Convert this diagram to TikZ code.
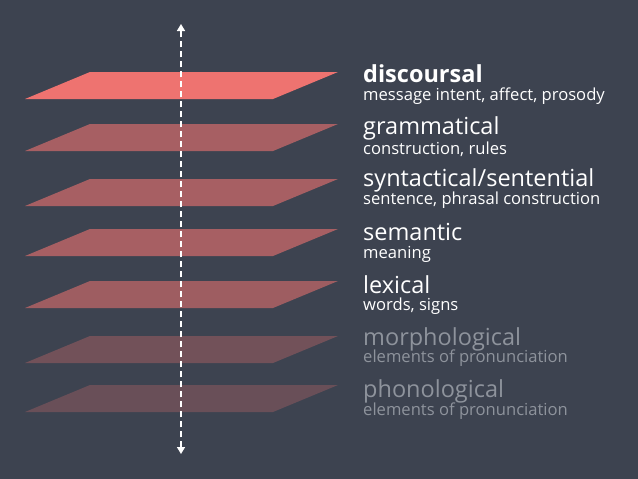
\documentclass[tikz,border=0pt]{standalone}
\usepackage{fontspec}
\setmainfont{Open Sans}
\usetikzlibrary{positioning,arrows.meta}
\definecolor{slate}{HTML}{3D4350}
\definecolor{salmon}{HTML}{EE7370}
\definecolor{chalkgray}{HTML}{8E939C}

\begin{document}
\begin{tikzpicture}[x=1pt,y=-1pt,
				plane/.style={fill=salmon,draw=none},
				head/.style={anchor=base west,inner sep=0pt,text=white,font=\fontsize{23.5}{23.5}\selectfont},
				sub/.style={anchor=base west,inner sep=0pt,text=white,font=\fontsize{16.6}{16.6}\selectfont},
				faint/.style={text=chalkgray},
				axis/.style={draw=white,line width=1.5pt,dash pattern=on 6pt off 4pt,{Triangle[length=7pt,width=8pt]}-{Triangle[length=7pt,width=8pt]}}]
				\fill[slate] (0,0) rectangle (638,479);
				\useasboundingbox (0,0) rectangle (638,479);
				% the seven layers
				\fill[plane]                 (25,99)  -- (90,72)  -- (338,72)  -- (273,99)  -- cycle;
				\fill[plane,fill opacity=.6] (25,151) -- (90,124) -- (338,124) -- (273,151) -- cycle;
				\fill[plane,fill opacity=.6] (25,206) -- (90,179) -- (338,179) -- (273,206) -- cycle;
				\fill[plane,fill opacity=.6] (25,256) -- (90,229) -- (338,229) -- (273,256) -- cycle;
				\fill[plane,fill opacity=.55] (25,308) -- (90,281) -- (338,281) -- (273,308) -- cycle;
				\fill[plane,fill opacity=.3] (25,363) -- (90,336) -- (338,336) -- (273,363) -- cycle;
				\fill[plane,fill opacity=.25] (25,412) -- (90,385) -- (338,385) -- (273,412) -- cycle;
				
				\coordinate (TOP) at (181,24);
				\coordinate (BOT) at (181,454);
				\draw[axis] (BOT) -- (TOP);
				
				\node (DIS)  [head,font=\fontsize{23.5}{23.5}\bfseries\selectfont] at (363,82) {discoursal};
				\node (DISs) [sub] at (363,100) {message intent, affect, prosody};
				\node (GRA)  [head] at (363,134) {grammatical};
				\node (GRAs) [sub]  at (363,154) {construction, rules};
				\node (SYN)  [head] at (363,186) {syntactical/sentential};
				\node (SYNs) [sub]  at (363,204) {sentence, phrasal construction};
				\node (SEM)  [head] at (363,240) {semantic};
				\node (SEMs) [sub]  at (363,258) {meaning};
				\node (LEX)  [head] at (363,293) {lexical};
				\node (LEXs) [sub]  at (363,310) {words, signs};
				\node (MOR)  [head,faint] at (363,345) {morphological};
				\node (MORs) [sub,faint]  at (363,362) {elements of pronunciation};
				\node (PHO)  [head,faint] at (363,397) {phonological};
				\node (PHOs) [sub,faint]  at (363,415) {elements of pronunciation};
\end{tikzpicture}
\end{document}
